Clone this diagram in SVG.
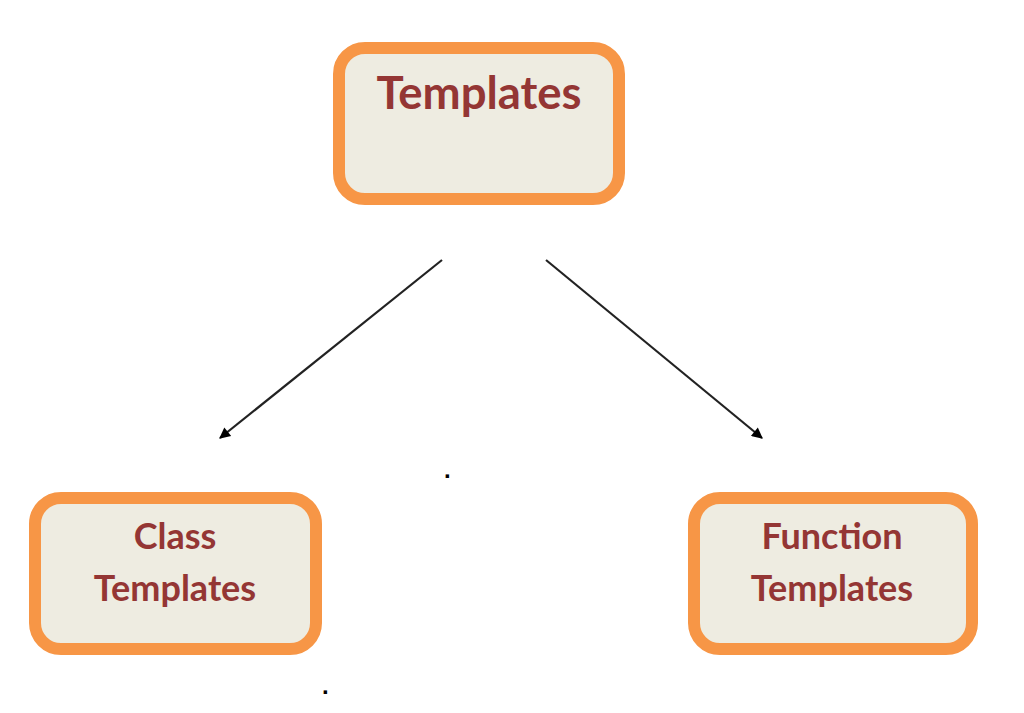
<svg xmlns="http://www.w3.org/2000/svg" width="1024" height="713" viewBox="0 0 1024 713">
<style>
.box{fill:#EEECE1;stroke:#F79646;stroke-width:12}
.lbl{font-family:Lato,"Liberation Sans",sans-serif;font-weight:bold;fill:#943634;text-anchor:middle}
.edge{stroke:#222;stroke-width:2.2;fill:none;marker-end:url(#ah)}
.dot{font-family:"Liberation Sans",sans-serif;font-weight:bold;font-size:24px;fill:#000}
</style>
<defs>
<marker id="ah" viewBox="0 0 10 10" refX="9" refY="5" markerWidth="13" markerHeight="11" markerUnits="userSpaceOnUse" orient="auto">
<path d="M0,0 L10,5 L0,10 z" fill="#000"/>
</marker>
</defs>
<rect width="1024" height="713" fill="#fff"/>
<g id="connectors">
<line class="edge" x1="442" y1="260" x2="220" y2="438"/>
<line class="edge" x1="546" y1="260" x2="762" y2="438"/>
</g>
<g id="templates">
<rect class="box" x="339" y="48" width="280" height="151" rx="26"/>
<text class="lbl" x="479" y="109" font-size="45.5">Templates</text>
</g>
<g id="class-templates">
<rect class="box" x="35" y="498" width="281" height="151" rx="26"/>
<text class="lbl" x="175" y="549" font-size="36">Class</text>
<text class="lbl" x="175" y="601" font-size="36">Templates</text>
</g>
<g id="function-templates">
<rect class="box" x="694" y="498" width="278" height="151" rx="26"/>
<text class="lbl" x="832" y="549" font-size="36">Function</text>
<text class="lbl" x="832" y="601" font-size="36">Templates</text>
</g>
<text class="dot" x="444" y="478">.</text>
<text class="dot" x="322" y="694">.</text>
</svg>
